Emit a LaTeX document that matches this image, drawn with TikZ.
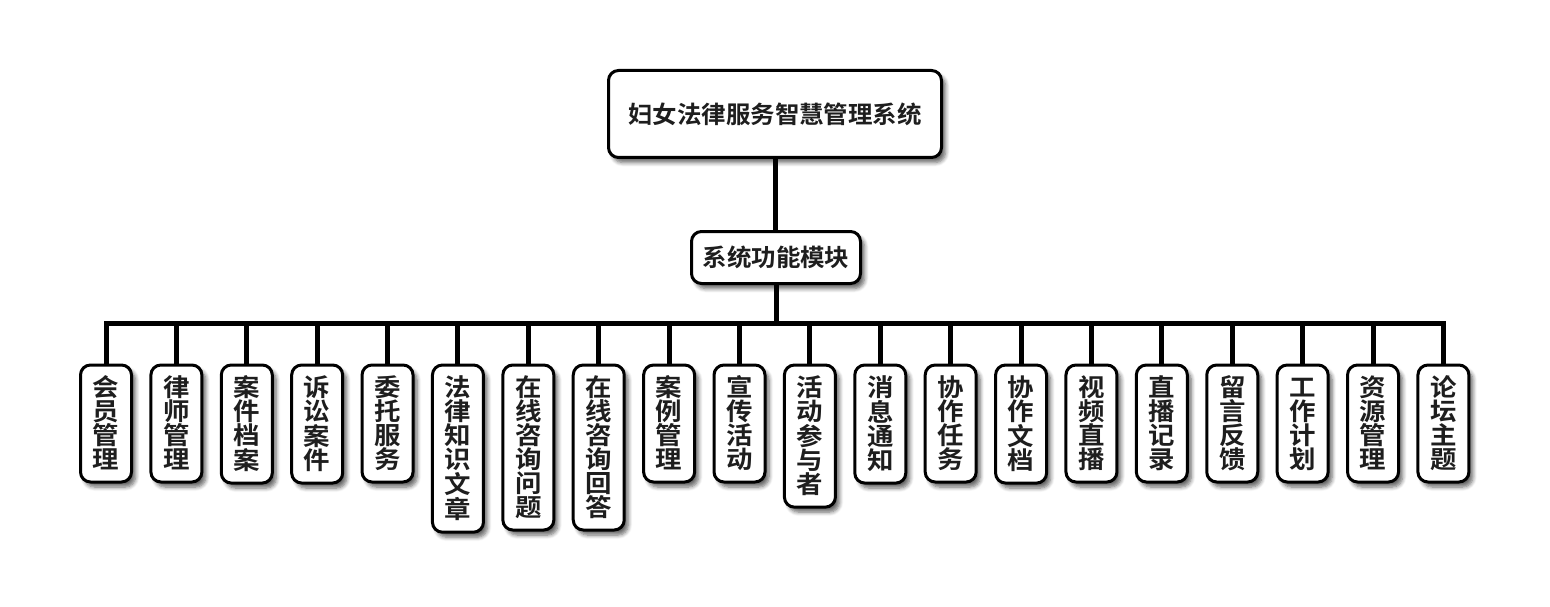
\documentclass[tikz,border=0pt]{standalone}
\usepackage{fontspec}
\usetikzlibrary{shadows.blur,backgrounds}
\newfontfamily\cjk{Noto Sans CJK SC Bold}[FakeStretch=1.02]
\newfontfamily\cjkw{Noto Sans CJK SC Bold}[FakeStretch=1.08]
\newcommand\cs{\rule[-3pt]{0pt}{24pt}}
\definecolor{txt}{HTML}{1E1E1E}
\begin{document}
\begin{tikzpicture}[x=1pt,y=-1pt,
  box/.style={draw=black, line width=3pt, rounded corners=10pt, fill=white,
    font=\cjk\fontsize{24}{24}\selectfont, text=txt,
    blur shadow={shadow xshift=4pt, shadow yshift=-5pt, shadow blur steps=6,
      shadow blur radius=4pt, shadow opacity=60}},
  leaf/.style={box, font=\cjkw\fontsize{24.5}{24}\selectfont, anchor=north,
    minimum width=51pt, inner xsep=0pt, inner ysep=10.5pt, align=center},
  conn/.style={line width=5pt, draw=black}]
\useasboundingbox (0,0) rectangle (1550,607);
\node[box, minimum width=333pt, minimum height=87pt] (root) at (775,114) {妇女法律服务智慧管理系统};
\node[box, minimum width=169pt, minimum height=52pt] (mid) at (776,257.5) {系统功能模块};
\coordinate (bus) at (775,323.5);
\def\lx#1{106+70.39*(#1-1)}
\node[leaf] (l1) at ({\lx{1}},363.5) {\cs 会\\\cs 员\\\cs 管\\\cs 理};
\node[leaf] (l2) at ({\lx{2}},363.5) {\cs 律\\\cs 师\\\cs 管\\\cs 理};
\node[leaf] (l3) at ({\lx{3}},363.5) {\cs 案\\\cs 件\\\cs 档\\\cs 案};
\node[leaf] (l4) at ({\lx{4}},363.5) {\cs 诉\\\cs 讼\\\cs 案\\\cs 件};
\node[leaf] (l5) at ({\lx{5}},363.5) {\cs 委\\\cs 托\\\cs 服\\\cs 务};
\node[leaf] (l6) at ({\lx{6}},363.5) {\cs 法\\\cs 律\\\cs 知\\\cs 识\\\cs 文\\\cs 章};
\node[leaf] (l7) at ({\lx{7}},363.5) {\cs 在\\\cs 线\\\cs 咨\\\cs 询\\\cs 问\\\cs 题};
\node[leaf] (l8) at ({\lx{8}},363.5) {\cs 在\\\cs 线\\\cs 咨\\\cs 询\\\cs 回\\\cs 答};
\node[leaf] (l9) at ({\lx{9}},363.5) {\cs 案\\\cs 例\\\cs 管\\\cs 理};
\node[leaf] (l10) at ({\lx{10}},363.5) {\cs 宣\\\cs 传\\\cs 活\\\cs 动};
\node[leaf] (l11) at ({\lx{11}},363.5) {\cs 活\\\cs 动\\\cs 参\\\cs 与\\\cs 者};
\node[leaf] (l12) at ({\lx{12}},363.5) {\cs 消\\\cs 息\\\cs 通\\\cs 知};
\node[leaf] (l13) at ({\lx{13}},363.5) {\cs 协\\\cs 作\\\cs 任\\\cs 务};
\node[leaf] (l14) at ({\lx{14}},363.5) {\cs 协\\\cs 作\\\cs 文\\\cs 档};
\node[leaf] (l15) at ({\lx{15}},363.5) {\cs 视\\\cs 频\\\cs 直\\\cs 播};
\node[leaf] (l16) at ({\lx{16}},363.5) {\cs 直\\\cs 播\\\cs 记\\\cs 录};
\node[leaf] (l17) at ({\lx{17}},363.5) {\cs 留\\\cs 言\\\cs 反\\\cs 馈};
\node[leaf] (l18) at ({\lx{18}},363.5) {\cs 工\\\cs 作\\\cs 计\\\cs 划};
\node[leaf] (l19) at ({\lx{19}},363.5) {\cs 资\\\cs 源\\\cs 管\\\cs 理};
\node[leaf] (l20) at ({\lx{20}},363.5) {\cs 论\\\cs 坛\\\cs 主\\\cs 题};
\begin{pgfonlayer}{background}
\draw[conn] (root.center) -- (root.center |- mid.center);
\draw[conn] (mid.center) -- (mid.center |- bus);
\draw[conn, line join=miter] (l1.center) |- (bus) -| (l20.center);
\foreach \i in {2,...,19}{\draw[conn] (l\i.center) -- (l\i.center |- bus);}
\end{pgfonlayer}
\end{tikzpicture}
\end{document}
